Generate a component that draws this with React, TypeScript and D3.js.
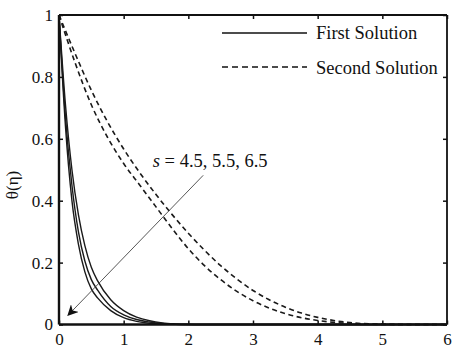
import React, { useEffect, useRef } from "react";
import * as d3 from "d3";

// eta grid for the first solution (steep curves)
const etaFirst = [0, 0.1, 0.2, 0.3, 0.4, 0.5, 0.6, 0.8, 1.0, 1.2, 1.4, 1.6, 1.8, 2.0, 2.2, 3, 4, 5, 6];
const firstS65 = [1, 0.64, 0.4, 0.26, 0.17, 0.115, 0.085, 0.045, 0.022, 0.01, 0.004, 0.0015, 0.0004, 0, 0, 0, 0, 0, 0];
const firstS55 = [1, 0.67, 0.45, 0.3, 0.205, 0.145, 0.11, 0.058, 0.031, 0.016, 0.008, 0.003, 0.001, 0.0002, 0, 0, 0, 0, 0];
const firstS45 = [1, 0.71, 0.5, 0.355, 0.255, 0.185, 0.14, 0.08, 0.045, 0.024, 0.012, 0.005, 0.002, 0.0006, 0, 0, 0, 0, 0];

// eta grid for the second solution (dashed curves)
const etaSecond = [0, 0.25, 0.5, 0.75, 1.0, 1.25, 1.5, 1.75, 2.0, 2.25, 2.5, 2.75, 3.0, 3.25, 3.5, 3.75, 4.0, 4.25, 4.5, 5.0, 5.5, 6.0];
const secondLower = [1, 0.845, 0.71, 0.605, 0.52, 0.45, 0.38, 0.31, 0.245, 0.19, 0.145, 0.107, 0.077, 0.053, 0.035, 0.022, 0.013, 0.007, 0.003, 0.0003, 0, 0];
const secondUpper = [1, 0.875, 0.757, 0.655, 0.567, 0.49, 0.42, 0.355, 0.295, 0.24, 0.19, 0.147, 0.11, 0.08, 0.056, 0.037, 0.023, 0.013, 0.006, 0.001, 0, 0];

const xTicks = [0, 1, 2, 3, 4, 5, 6];
const yTicks = [0, 0.2, 0.4, 0.6, 0.8, 1];
const legendLabels = ["First Solution", "Second Solution"];
const annotationText = "4.5, 5.5, 6.5";
const arrowFrom = [2.23, 0.482];
const arrowTo = [0.14, 0.03];
const annotationAt = [1.45, 0.508];

const W = 474;
const H = 361;
const margin = { left: 59, right: 27, top: 15, bottom: 36.5 };
const font = "Liberation Serif, Times New Roman, serif";

export default function App() {
  const gx = useRef<SVGGElement>(null);
  const gy = useRef<SVGGElement>(null);
  const gxTop = useRef<SVGGElement>(null);
  const gyRight = useRef<SVGGElement>(null);

  const x = d3.scaleLinear().domain([0, 6]).range([margin.left, W - margin.right]);
  const y = d3.scaleLinear().domain([0, 1]).range([H - margin.bottom, margin.top]);

  const line = d3
    .line<[number, number]>()
    .x((d) => x(d[0]))
    .y((d) => y(d[1]))
    .curve(d3.curveMonotoneX);

  const solid = [firstS65, firstS55, firstS45].map((vals) =>
    line(vals.map((v, i) => [etaFirst[i], v] as [number, number]))
  );
  const dashed = [secondLower, secondUpper].map((vals) =>
    line(vals.map((v, i) => [etaSecond[i], v] as [number, number]))
  );

  useEffect(() => {
    const styleAxis = (g: any) => {
      g.attr("font-family", font).attr("font-size", 17);
      g.select(".domain").remove();
      g.selectAll(".tick line").attr("stroke", "#111").attr("stroke-width", 1.5);
      g.selectAll(".tick text").attr("fill", "#111");
    };
    d3.select(gx.current)
      .call(d3.axisBottom(x).tickValues(xTicks).tickSize(-4).tickPadding(8).tickFormat(d3.format("d")) as any)
      .call(styleAxis);
    d3.select(gy.current)
      .call(d3.axisLeft(y).tickValues(yTicks).tickSize(-4).tickPadding(6).tickFormat((d: any) => (d === 0 || d === 1 ? String(d) : d3.format(".1f")(d))) as any)
      .call(styleAxis);
    d3.select(gxTop.current)
      .call(d3.axisTop(x).tickValues(xTicks).tickSize(-4).tickFormat(() => "") as any)
      .call(styleAxis);
    d3.select(gyRight.current)
      .call(d3.axisRight(y).tickValues(yTicks).tickSize(-4).tickFormat(() => "") as any)
      .call(styleAxis);
  }, []);

  const x0 = x(0), x1 = x(6), y0 = y(0), y1 = y(1);
  const ax1 = x(arrowFrom[0]), ay1 = y(arrowFrom[1]);
  const ax2 = x(arrowTo[0]), ay2 = y(arrowTo[1]);

  return (
    <svg width={W} height={H} style={{ position: "absolute", left: 0, top: 0, background: "#fff", fontFamily: font }}>
      <defs>
        <marker id="arr" viewBox="0 0 10 10" refX="9" refY="5" markerWidth="11" markerHeight="11" markerUnits="userSpaceOnUse" orient="auto">
          <path d="M0,0 L10,5 L0,10 L3,5 Z" fill="#111" />
        </marker>
      </defs>
      <rect x={0} y={0} width={W} height={H} fill="#fff" />

      {solid.map((d, i) => (
        <path key={"s" + i} d={d || ""} fill="none" stroke="#1a1a1a" strokeWidth={1.4} />
      ))}
      {dashed.map((d, i) => (
        <path key={"d" + i} d={d || ""} fill="none" stroke="#1a1a1a" strokeWidth={1.6} strokeDasharray="5,3.5" />
      ))}

      <line x1={ax1} y1={ay1} x2={ax2} y2={ay2} stroke="#444" strokeWidth={0.9} markerEnd="url(#arr)" />
      <text x={x(annotationAt[0])} y={y(annotationAt[1])} fontSize={18.5} fill="#111">
        <tspan fontStyle="italic">s</tspan> = {annotationText}
      </text>

      {/* legend */}
      <line x1={222} x2={307} y1={33} y2={33} stroke="#111" strokeWidth={1.6} />
      <text x={316} y={39} fontSize={18.5} fill="#111">{legendLabels[0]}</text>
      <line x1={222} x2={307} y1={67} y2={67} stroke="#111" strokeWidth={1.6} strokeDasharray="6,4" />
      <text x={316} y={74} fontSize={18.5} fill="#111">{legendLabels[1]}</text>

      <g ref={gx} transform={`translate(0,${y0})`} />
      <g ref={gy} transform={`translate(${x0},0)`} />
      <g ref={gxTop} transform={`translate(0,${y1})`} />
      <g ref={gyRight} transform={`translate(${x1},0)`} />

      <line x1={x0} x2={x1} y1={y1} y2={y1} stroke="#111" strokeWidth={1.8} />
      <line x1={x1} x2={x1} y1={y1} y2={y0} stroke="#111" strokeWidth={1.8} />
      <line x1={x0} x2={x1} y1={y0} y2={y0} stroke="#111" strokeWidth={2.4} />
      <line x1={x0} x2={x0} y1={y1} y2={y0} stroke="#111" strokeWidth={2.4} />

      <text
        transform={`translate(18,185) rotate(-90)`}
        textAnchor="middle"
        fontSize={17}
        fill="#111"
      >
        θ(η)
      </text>
    </svg>
  );
}
